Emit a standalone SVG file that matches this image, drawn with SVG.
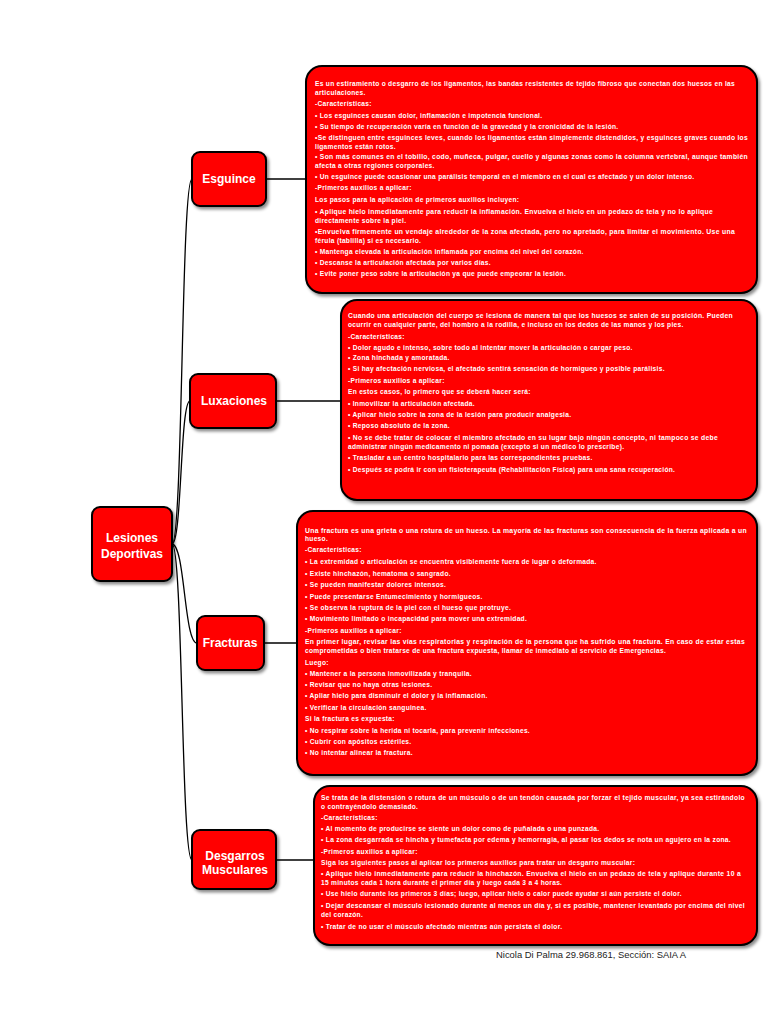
<svg xmlns="http://www.w3.org/2000/svg" width="768" height="1024" viewBox="0 0 768 1024">
<style>
.box{fill:#ff0000;stroke:#000;stroke-width:2}
.t{font-family:"Liberation Sans",Arial,sans-serif;font-size:6.6px;font-weight:bold;fill:#fff;letter-spacing:0.3px}
.n{font-family:"Liberation Sans",Arial,sans-serif;font-size:12px;font-weight:bold;fill:#fff;text-anchor:middle}
.c{fill:none;stroke:#000;stroke-width:1.3}
.f{font-family:"Liberation Sans",Arial,sans-serif;font-size:9px;fill:#222}
</style>
<defs>
<filter id="sh" x="-10%" y="-10%" width="125%" height="125%">
<feDropShadow dx="2" dy="2.5" stdDeviation="1.5" flood-color="#000" flood-opacity="0.45"/>
</filter>
</defs>
<rect width="768" height="1024" fill="#fff"/>
<g id="connectors">
<path class="c" d="M172,544 C183,544 181,179 192,179"/>
<path class="c" d="M172,544 C182,544 180,401 190,401"/>
<path class="c" d="M172,544 C185,544 184,643 197,643"/>
<path class="c" d="M172,544 C183,544 181,860 192,860"/>
<path class="c" d="M266,179 H306"/>
<path class="c" d="M276,401 H341"/>
<path class="c" d="M264,643 H297"/>
<path class="c" d="M276,860 H314"/>
</g>
<g id="root">
<rect class="box" filter="url(#sh)" x="92" y="507" width="80" height="74" rx="8"/>
<text class="n" x="132" y="542">Lesiones</text>
<text class="n" x="132" y="558">Deportivas</text>
</g>
<g id="esguince">
<rect class="box" filter="url(#sh)" x="192" y="152" width="74" height="54" rx="8"/>
<text class="n" x="229" y="183">Esguince</text>
</g>
<g id="luxaciones">
<rect class="box" filter="url(#sh)" x="190" y="374" width="86" height="54" rx="8"/>
<text class="n" x="234" y="405">Luxaciones</text>
</g>
<g id="fracturas">
<rect class="box" filter="url(#sh)" x="197" y="616" width="67" height="54" rx="8"/>
<text class="n" x="230" y="647">Fracturas</text>
</g>
<g id="desgarros">
<rect class="box" filter="url(#sh)" x="192" y="830" width="84" height="59" rx="8"/>
<text class="n" x="235" y="860">Desgarros</text>
<text class="n" x="235" y="874">Musculares</text>
</g>
<g id="esguince-text">
<rect class="box" filter="url(#sh)" x="306" y="66" width="451" height="227" rx="16"/>
<text class="t" x="315" y="86" textLength="420" lengthAdjust="spacingAndGlyphs">Es un estiramiento o desgarro de los ligamentos, las bandas resistentes de tejido fibroso que conectan dos huesos en las</text>
<text class="t" x="315" y="95">articulaciones.</text>
<text class="t" x="315" y="106">-Características:</text>
<text class="t" x="315" y="118">• Los esguinces causan dolor, inflamación e impotencia funcional.</text>
<text class="t" x="315" y="129">• Su tiempo de recuperación varía en función de la gravedad y la cronicidad de la lesión.</text>
<text class="t" x="315" y="140" textLength="433" lengthAdjust="spacingAndGlyphs">•Se distinguen entre esguinces leves, cuando los ligamentos están simplemente distendidos, y esguinces graves cuando los</text>
<text class="t" x="315" y="149">ligamentos están rotos.</text>
<text class="t" x="315" y="159" textLength="433" lengthAdjust="spacingAndGlyphs">• Son más comunes en el tobillo, codo, muñeca, pulgar, cuello y algunas zonas como la columna vertebral, aunque también</text>
<text class="t" x="315" y="168">afecta a otras regiones corporales.</text>
<text class="t" x="315" y="179">• Un esguince puede ocasionar una parálisis temporal en el miembro en el cual es afectado y un dolor intenso.</text>
<text class="t" x="315" y="190">-Primeros auxilios a aplicar:</text>
<text class="t" x="315" y="202">Los pasos para la aplicación de primeros auxilios incluyen:</text>
<text class="t" x="315" y="214" textLength="398" lengthAdjust="spacingAndGlyphs">• Aplique hielo inmediatamente para reducir la inflamación. Envuelva el hielo en un pedazo de tela y no lo aplique</text>
<text class="t" x="315" y="223">directamente sobre la piel.</text>
<text class="t" x="315" y="234" textLength="420" lengthAdjust="spacingAndGlyphs">•Envuelva firmemente un vendaje alrededor de la zona afectada, pero no apretado, para limitar el movimiento. Use una</text>
<text class="t" x="315" y="243">férula (tablilla) si es necesario.</text>
<text class="t" x="315" y="254">• Mantenga elevada la articulación inflamada por encima del nivel del corazón.</text>
<text class="t" x="315" y="265">• Descanse la articulación afectada por varios días.</text>
<text class="t" x="315" y="276">• Evite poner peso sobre la articulación ya que puede empeorar la lesión.</text>
</g>
<g id="luxaciones-text">
<rect class="box" filter="url(#sh)" x="341" y="300" width="416" height="200" rx="16"/>
<text class="t" x="348" y="318" textLength="385" lengthAdjust="spacingAndGlyphs">Cuando una articulación del cuerpo se lesiona de manera tal que los huesos se salen de su posición. Pueden</text>
<text class="t" x="348" y="327">ocurrir en cualquier parte, del hombro a la rodilla, e incluso en los dedos de las manos y los pies.</text>
<text class="t" x="348" y="339">-Características:</text>
<text class="t" x="348" y="350">• Dolor agudo e intenso, sobre todo al intentar mover la articulación o cargar peso.</text>
<text class="t" x="348" y="360">• Zona hinchada y amoratada.</text>
<text class="t" x="348" y="371">• Si hay afectación nerviosa, el afectado sentirá sensación de hormigueo y posible parálisis.</text>
<text class="t" x="348" y="383">-Primeros auxilios a aplicar:</text>
<text class="t" x="348" y="394">En estos casos, lo primero que se deberá hacer será:</text>
<text class="t" x="348" y="406">• Inmovilizar la articulación afectada.</text>
<text class="t" x="348" y="417">• Aplicar hielo sobre la zona de la lesión para producir analgesia.</text>
<text class="t" x="348" y="428">• Reposo absoluto de la zona.</text>
<text class="t" x="348" y="440" textLength="370" lengthAdjust="spacingAndGlyphs">• No se debe tratar de colocar el miembro afectado en su lugar bajo ningún concepto, ni tampoco se debe</text>
<text class="t" x="348" y="449">administrar ningún medicamento ni pomada (excepto si un médico lo prescribe).</text>
<text class="t" x="348" y="460">• Trasladar a un centro hospitalario para las correspondientes pruebas.</text>
<text class="t" x="348" y="472">• Después se podrá ir con un fisioterapeuta (Rehabilitación Física) para una sana recuperación.</text>
</g>
<g id="fracturas-text">
<rect class="box" filter="url(#sh)" x="297" y="511" width="460" height="264" rx="16"/>
<text class="t" x="305" y="533" textLength="442" lengthAdjust="spacingAndGlyphs">Una fractura es una grieta o una rotura de un hueso. La mayoría de las fracturas son consecuencia de la fuerza aplicada a un</text>
<text class="t" x="305" y="541">hueso.</text>
<text class="t" x="305" y="552">-Características:</text>
<text class="t" x="305" y="564">• La extremidad o articulación se encuentra visiblemente fuera de lugar o deformada.</text>
<text class="t" x="305" y="576">• Existe hinchazón, hematoma o sangrado.</text>
<text class="t" x="305" y="587">• Se pueden manifestar dolores intensos.</text>
<text class="t" x="305" y="599">• Puede presentarse Entumecimiento y hormigueos.</text>
<text class="t" x="305" y="610">• Se observa la ruptura de la piel con el hueso que protruye.</text>
<text class="t" x="305" y="621">• Movimiento limitado o incapacidad para mover una extremidad.</text>
<text class="t" x="305" y="633">-Primeros auxilios a aplicar:</text>
<text class="t" x="305" y="644" textLength="440" lengthAdjust="spacingAndGlyphs">En primer lugar, revisar las vías respiratorias y respiración de la persona que ha sufrido una fractura. En caso de estar estas</text>
<text class="t" x="305" y="653">comprometidas o bien tratarse de una fractura expuesta, llamar de inmediato al servicio de Emergencias.</text>
<text class="t" x="305" y="665">Luego:</text>
<text class="t" x="305" y="676">• Mantener a la persona inmovilizada y tranquila.</text>
<text class="t" x="305" y="687">• Revisar que no haya otras lesiones.</text>
<text class="t" x="305" y="698">• Apliar hielo para disminuir el dolor y la inflamación.</text>
<text class="t" x="305" y="710">• Verificar la circulación sanguinea.</text>
<text class="t" x="305" y="721">Si la fractura es expuesta:</text>
<text class="t" x="305" y="733">• No respirar sobre la herida ni tocarla, para prevenir infecciones.</text>
<text class="t" x="305" y="744">• Cubrir con apósitos estériles.</text>
<text class="t" x="305" y="755">• No intentar alinear la fractura.</text>
</g>
<g id="desgarros-text">
<rect class="box" filter="url(#sh)" x="314" y="786" width="443" height="159" rx="16"/>
<text class="t" x="321" y="800" textLength="424" lengthAdjust="spacingAndGlyphs">Se trata de la distensión o rotura de un músculo o de un tendón causada por forzar el tejido muscular, ya sea estirándolo</text>
<text class="t" x="321" y="809">o contrayéndolo demasiado.</text>
<text class="t" x="321" y="820">-Características:</text>
<text class="t" x="321" y="831">• Al momento de producirse se siente un dolor como de puñalada o una punzada.</text>
<text class="t" x="321" y="842" textLength="410" lengthAdjust="spacingAndGlyphs">• La zona desgarrada se hincha y tumefacta por edema y hemorragia, al pasar los dedos se nota un agujero en la zona.</text>
<text class="t" x="321" y="854">-Primeros auxilios a aplicar:</text>
<text class="t" x="321" y="865">Siga los siguientes pasos al aplicar los primeros auxilios para tratar un desgarro muscular:</text>
<text class="t" x="321" y="876" textLength="420" lengthAdjust="spacingAndGlyphs">• Aplique hielo inmediatamente para reducir la hinchazón. Envuelva el hielo en un pedazo de tela y aplique durante 10 a</text>
<text class="t" x="321" y="885">15 minutos cada 1 hora durante el primer día y luego cada 3 a 4 horas.</text>
<text class="t" x="321" y="896">• Use hielo durante los primeros 3 días; luego, aplicar hielo o calor puede ayudar si aún persiste el dolor.</text>
<text class="t" x="321" y="908" textLength="424" lengthAdjust="spacingAndGlyphs">• Dejar descansar el músculo lesionado durante al menos un día y, si es posible, mantener levantado por encima del nivel</text>
<text class="t" x="321" y="917">del corazón.</text>
<text class="t" x="321" y="929">• Tratar de no usar el músculo afectado mientras aún persista el dolor.</text>
</g>
<text class="f" x="496" y="958" textLength="190" lengthAdjust="spacingAndGlyphs">Nicola Di Palma 29.968.861, Sección: SAIA A</text>
</svg>
